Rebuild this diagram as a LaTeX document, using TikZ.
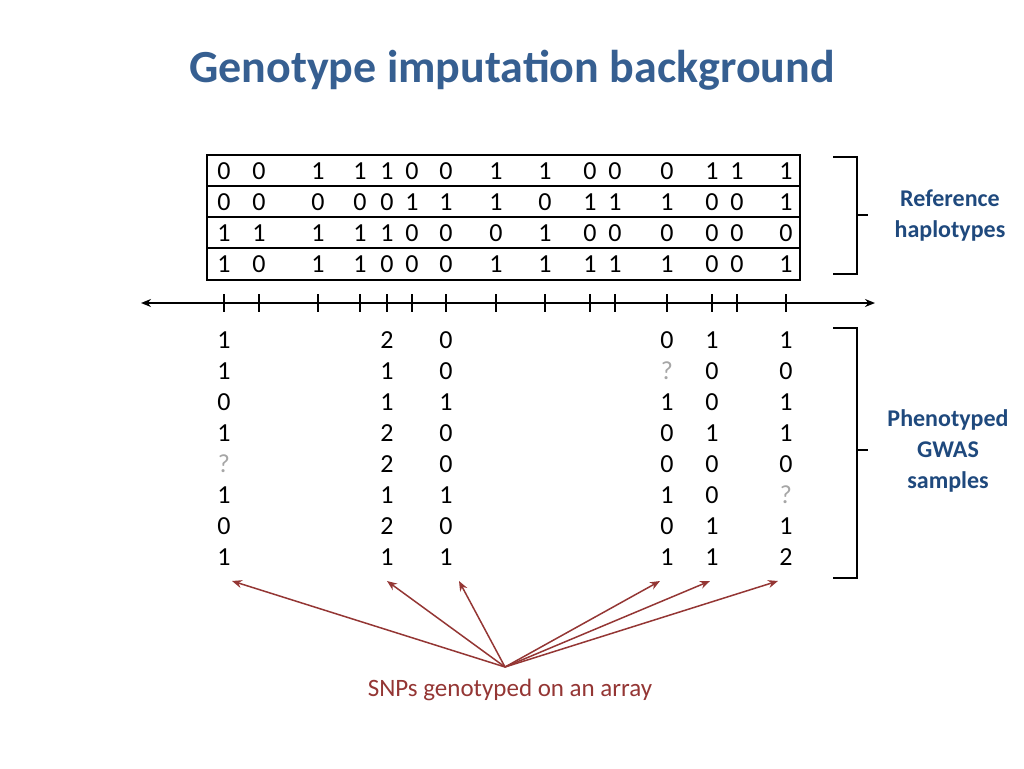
\documentclass[tikz,border=0pt]{standalone}
\usepackage{fontspec}
\setmainfont{Carlito}
\usetikzlibrary{arrows.meta}
\definecolor{titleblue}{RGB}{54,95,145}
\definecolor{labelblue}{RGB}{31,73,125}
\definecolor{snpred}{RGB}{148,54,52}
\def\qm{?}
\begin{document}
\begin{tikzpicture}[x=1pt,y=-1pt]
\tikzstyle{digit} = [font=\fontsize{26}{28}\selectfont,inner sep=0pt]
\tikzstyle{qmark} = [digit,gray!70]
\tikzstyle{sidelabel} = [labelblue,font=\fontsize{24}{31}\selectfont\bfseries,align=center]
\tikzstyle{brace} = [line width=2pt]
\tikzstyle{snparrow} = [snpred,line width=1.5pt,-{Stealth[length=10pt,width=8pt]}]
\useasboundingbox (0,0) rectangle (1024,768);
  %title
  \node[titleblue,font=\fontsize{46}{50}\selectfont\bfseries] (title) at (512,70) {Genotype imputation background};
  %reference table
  \draw[line width=1.6pt] (207,155) rectangle (800,280);
  \foreach \y in {186,217,248}
    \draw[line width=1.6pt] (207,\y) -- (800,\y);
  \foreach \x/\a/\b/\c/\d [count=\i] in {224/0/0/1/1,259/0/0/1/0,318/1/0/1/1,360/1/0/1/1,387/1/0/1/0,
      412/0/1/0/0,446/0/1/0/0,496/1/1/0/1,545/1/0/1/1,590/0/1/0/1,615/0/1/0/1,667/0/1/0/1,
      712/1/0/0/0,737/1/0/0/0,786/1/1/0/1}{
    \node[digit] (r1c\i) at (\x,171) {\a};
    \node[digit] (r2c\i) at (\x,202) {\b};
    \node[digit] (r3c\i) at (\x,233) {\c};
    \node[digit] (r4c\i) at (\x,264) {\d};
    \draw[line width=1.6pt] (\x,294) -- (\x,312); % tick
  }
  %axis
  \draw[line width=1.8pt,{Stealth[length=10pt,width=8pt]}-{Stealth[length=10pt,width=8pt]}] (141,303) -- (875,303);
  %GWAS samples
  \foreach \x/\col in {224/{1,1,0,1,?,1,0,1},387/{2,1,1,2,2,1,2,1},446/{0,0,1,0,0,1,0,1},
      667/{0,?,1,0,0,1,0,1},712/{1,0,0,1,0,0,1,1},786/{1,0,1,1,0,?,1,2}}{
    \foreach \v [count=\j] in \col {
      \ifx\v\qm\node[qmark] (g\x-\j) at (\x,309+31*\j) {?};
      \else\node[digit] (g\x-\j) at (\x,309+31*\j) {\v};\fi
    }
  }
  %brackets
  \draw[brace] (833,157) -- (857,157) -- (857,274) -- (833,274);
  \draw[brace] (857,215) -- (868,215);
  \node[sidelabel] (reflabel) at (950,216) {Reference\\haplotypes};
  \draw[brace] (833,328) -- (857,328) -- (857,578) -- (833,578);
  \draw[brace] (857,450) -- (868,450);
  \node[sidelabel] (gwaslabel) at (948,451) {Phenotyped\\GWAS\\samples};
  %snp arrows
  \coordinate (src) at (505,667);
  \node[snpred,font=\fontsize{25}{28}\selectfont] (snplabel) at (510,690) {SNPs genotyped on an array};
  \foreach \x/\tx in {224/232,387/387,446/459,667/660,712/710,786/778}
    \draw[snparrow] (src) -- (\tx,581);
\end{tikzpicture}
\end{document}
